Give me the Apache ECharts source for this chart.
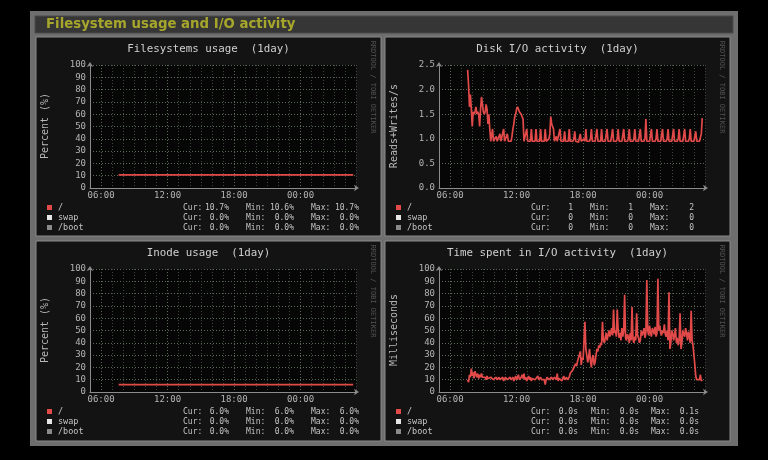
<!DOCTYPE html>
<html><head><meta charset="utf-8">
<script src="https://cdn.jsdelivr.net/npm/echarts@6/dist/echarts.min.js"></script>
<style>html,body{margin:0;padding:0;background:#000;}#c{width:768px;height:460px;}</style>
</head><body><div id="c"></div>
<script>
// ---------- data ----------
const pageTitle = 'Filesystem usage and I/O activity';
const panelTitles = ['Filesystems usage  (1day)', 'Disk I/O activity  (1day)', 'Inode usage  (1day)', 'Time spent in I/O activity  (1day)'];
const yNames = ['Percent (%)', 'Reads+Writes/s', 'Percent (%)', 'Milliseconds'];
const sideText = 'RRDTOOL / TOBI OETIKER';
const xTickLabels = ['06:00', '12:00', '18:00', '00:00'];
const axisStart = '05:00';
const legendNames = ['/', 'swap', '/boot'];
const statLabels = ['Cur:', 'Min:', 'Max:'];
const fsStats = [['10.7%', '10.6%', '10.7%'], ['0.0%', '0.0%', '0.0%'], ['0.0%', '0.0%', '0.0%']];
const diskStats = [['1', '1', '2'], ['0', '0', '0'], ['0', '0', '0']];
const inodeStats = [['6.0%', '6.0%', '6.0%'], ['0.0%', '0.0%', '0.0%'], ['0.0%', '0.0%', '0.0%']];
const ioTimeStats = [['0.0s', '0.0s', '0.1s'], ['0.0s', '0.0s', '0.0s'], ['0.0s', '0.0s', '0.0s']];

const flatTimes = ['07:35', '04:45'];
const fsRoot = [10.7, 10.7];
const inodeRoot = [6.0, 6.0];

const sampleStart = '07:35';
const sampleStepMin = 5;
const diskIO = [
  2.4, 2.1, 1.65, 1.9, 1.6, 1.25, 1.55, 1.5, 1.55, 1.65, 1.5, 1.55,
  1.5, 1.25, 1.6, 1.85, 1.7, 1.55, 1.5, 1.55, 1.7, 1.6, 1.3, 1.5,
  1.2, 0.95, 0.95, 1.2, 0.95, 0.95, 0.95, 1.05, 0.95, 0.95, 0.95, 1.1,
  0.95, 0.95, 0.95, 1.2, 0.95, 0.95, 0.95, 1.1, 0.95, 0.95, 0.95, 0.95,
  1.05, 1.2, 1.3, 1.45, 1.5, 1.6, 1.65, 1.6, 1.55, 1.55, 1.5, 1.5,
  1.4, 0.95, 0.95, 0.95, 1.2, 0.95, 0.95, 0.95, 0.95, 1.2, 0.95, 0.95,
  0.95, 0.95, 1.2, 0.95, 0.95, 0.95, 0.95, 1.2, 0.95, 0.95, 0.95, 0.95,
  1.2, 0.95, 0.95, 0.95, 1.0, 1.1, 1.45, 1.3, 1.25, 1.2, 0.95, 0.95,
  1.05, 0.95, 0.95, 0.95, 1.2, 0.95, 0.95, 0.95, 0.95, 1.15, 0.95, 0.95,
  0.95, 0.95, 1.2, 0.95, 0.95, 0.95, 0.95, 1.0, 1.15, 0.95, 0.95, 0.95,
  0.93, 0.93, 1.1, 0.95, 0.95, 0.95, 1.0, 0.95, 1.2, 0.95, 0.95, 0.95,
  0.95, 1.0, 1.2, 0.95, 0.95, 0.95, 0.95, 0.95, 1.2, 0.95, 0.95, 0.95,
  0.95, 1.2, 0.95, 0.95, 0.95, 0.95, 0.95, 1.2, 0.95, 0.95, 0.95, 0.95,
  0.95, 1.2, 0.95, 0.95, 0.95, 0.95, 1.0, 1.2, 0.95, 0.95, 0.95, 0.95,
  0.95, 1.2, 0.95, 0.95, 0.95, 0.95, 1.0, 1.2, 0.95, 0.95, 0.95, 0.95,
  1.0, 1.2, 0.95, 0.95, 0.95, 0.95, 0.95, 1.2, 0.95, 0.95, 0.95, 0.95,
  1.0, 1.4, 0.95, 0.95, 0.95, 0.95, 0.95, 1.2, 0.95, 0.95, 0.95, 0.95,
  1.0, 1.2, 0.95, 0.95, 0.95, 0.95, 0.95, 1.2, 0.95, 0.95, 0.95, 0.95,
  1.0, 1.2, 0.95, 0.95, 0.95, 0.95, 0.95, 1.2, 0.95, 0.95, 0.95, 0.95,
  1.0, 1.2, 0.95, 0.95, 0.95, 0.95, 0.95, 1.2, 0.95, 0.95, 0.95, 0.95,
  1.0, 1.2, 0.95, 0.95, 0.95, 0.95, 0.95, 1.15, 0.95, 0.95, 0.95, 0.95,
  0.95, 1.1, 1.42
];
const ioTime = [
  10, 8, 14, 12, 19, 13, 16, 11, 17, 14, 12, 15,
  11, 14, 12, 15, 12, 11, 13, 12, 10, 13, 11, 12,
  10, 12, 11, 13, 10, 9, 11, 12, 10, 11, 12, 10,
  11, 10, 12, 9, 10, 12, 11, 10, 9, 11, 12, 10,
  10, 12, 9, 11, 13, 10, 12, 14, 10, 11, 12, 14,
  11, 15, 10, 12, 9, 11, 13, 10, 12, 9, 11, 10,
  12, 10, 9, 11, 13, 10, 11, 12, 10, 9, 11, 10,
  6, 10, 12, 11, 10, 9, 11, 12, 10, 9, 12, 11,
  10, 15, 9, 11, 10, 12, 9, 11, 13, 10, 9, 12,
  10, 9, 12, 15, 14, 16, 18, 20, 19, 23, 21, 25,
  24, 26, 33, 22, 28, 26, 25, 57, 35, 30, 24, 28,
  35, 25, 20, 28, 30, 22, 24, 30, 35, 33, 38, 36,
  40, 38, 57, 42, 40, 44, 48, 42, 46, 50, 45, 48,
  52, 46, 67, 48, 50, 45, 67, 50, 44, 48, 42, 52,
  45, 50, 79, 44, 42, 47, 45, 40, 48, 42, 69, 43,
  40, 45, 42, 64, 46, 44, 40, 42, 50, 46, 48, 52,
  44, 48, 91, 50, 46, 54, 48, 45, 52, 50, 47, 53,
  45, 48, 92, 50, 54, 48, 46, 50, 48, 55, 47, 45,
  50, 42, 81, 35, 40, 50, 48, 42, 46, 52, 40, 44,
  38, 42, 64, 35, 40, 50, 47, 45, 52, 48, 42, 49,
  45, 40, 66, 42, 38, 30, 22, 13, 10, 9, 11, 10,
  14, 9, 10
];

// ---------- helpers ----------
function hoursFromAxisStart(t) {
  const [h, m] = t.split(':').map(Number);
  const [h0, m0] = axisStart.split(':').map(Number);
  let d = (h * 60 + m - h0 * 60 - m0) / 60;
  if (d < 0) d += 24;
  return d;
}
function sampled(values) {
  const s = hoursFromAxisStart(sampleStart);
  return values.map((v, i) => [s + i * sampleStepMin / 60, v]);
}
function flat(values) {
  return values.map((v, i) => [hoursFromAxisStart(flatTimes[i]), v]);
}

// ---------- layout ----------
const MONO = 'DejaVu Sans Mono';
const LINE = '#e24a4a';
const panels = [
  { x: 36, y: 37, w: 345, h: 199, yMax: 100, yInt: 10, dec: 0, stats: fsStats, labX: [183, 246, 311], valRight: [229, 294, 359], data: flat(fsRoot) },
  { x: 385, y: 37, w: 345, h: 199, yMax: 2.5, yInt: 0.5, dec: 1, stats: diskStats, labX: [531, 590, 650], valRight: [573, 633, 694], data: sampled(diskIO) },
  { x: 36, y: 241, w: 345, h: 200, yMax: 100, yInt: 10, dec: 0, stats: inodeStats, labX: [183, 246, 311], valRight: [229, 294, 359], data: flat(inodeRoot) },
  { x: 385, y: 241, w: 345, h: 200, yMax: 100, yInt: 10, dec: 0, stats: ioTimeStats, labX: [531, 591, 651], valRight: [578, 639, 699], data: sampled(ioTime) }
];

const grids = [], xAxes = [], yAxes = [], series = [], graphics = [];
graphics.push({ type: 'rect', z: -10, shape: { x: 30, y: 11, width: 708, height: 435 }, style: { fill: '#6e6e6e' } });
graphics.push({ type: 'rect', z: -9, shape: { x: 35, y: 16, width: 698, height: 17 }, style: { fill: '#363636', stroke: '#4a4a4a', lineWidth: 1 } });
graphics.push({ type: 'text', z: 5, style: { x: 46, y: 25, text: pageTitle, fill: '#a6a62c', font: 'bold 13.3px "DejaVu Sans"', verticalAlign: 'middle' } });

const minor = '#3a473a', major = '#5a6b5a';
panels.forEach((p, k) => {
  graphics.push({ type: 'rect', z: -9, shape: { x: p.x, y: p.y, width: p.w, height: p.h }, style: { fill: '#131313', stroke: '#8a8a8a', lineWidth: 1 } });
  graphics.push({ type: 'text', z: 5, style: { x: p.x + p.w / 2, y: p.y + 12, text: panelTitles[k], fill: '#cfcfcf', font: '10.8px "' + MONO + '"', align: 'center', verticalAlign: 'middle' } });
  graphics.push({ type: 'text', z: 5, x: p.x + 9, y: p.y + 89, rotation: Math.PI / 2, style: { x: 0, y: 0, text: yNames[k], fill: '#b8b8b8', font: '10px "' + MONO + '"', align: 'center', verticalAlign: 'middle' } });
  graphics.push({ type: 'text', z: 5, x: p.x + p.w - 8, y: p.y + 50, rotation: -Math.PI / 2, style: { x: 0, y: 0, text: sideText, fill: '#525252', font: '7px "' + MONO + '"', align: 'center', verticalAlign: 'middle' } });
  const sqColors = [LINE, '#e6e6e6', '#8a8a8a'];
  legendNames.forEach((n, r) => {
    const ry = p.y + 171 + r * 10;
    graphics.push({ type: 'rect', z: 5, shape: { x: p.x + 11, y: ry - 3, width: 5, height: 5 }, style: { fill: sqColors[r] } });
    graphics.push({ type: 'text', z: 5, style: { x: p.x + 22, y: ry, text: n, fill: '#c4c4c4', font: '8.5px "' + MONO + '"', verticalAlign: 'middle' } });
    statLabels.forEach((lab, c) => {
      graphics.push({ type: 'text', z: 5, style: { x: p.labX[c], y: ry, text: lab, fill: '#c4c4c4', font: '8px "' + MONO + '"', verticalAlign: 'middle' } });
      graphics.push({ type: 'text', z: 5, style: { x: p.valRight[c], y: ry, text: p.stats[r][c], fill: '#c4c4c4', font: '8px "' + MONO + '"', align: 'right', verticalAlign: 'middle' } });
    });
  });

  grids.push({ left: p.x + 54, top: p.y + 28, width: 266, height: 123, show: true, backgroundColor: '#060606', borderWidth: 0 });
  xAxes.push({
    type: 'value', gridIndex: k, min: 0, max: 24, interval: 1,
    axisLine: { show: true, lineStyle: { color: '#8c8c8c', width: 1 }, symbol: ['none', 'arrow'], symbolSize: [5, 5], symbolOffset: [0, 3] },
    axisTick: { show: false },
    axisLabel: { color: '#b4b4b4', fontFamily: MONO, fontSize: 9, margin: 3,
      formatter: v => (v % 6 === 1 ? xTickLabels[(v - 1) / 6] : '') },
    splitLine: { show: true, lineStyle: { color: [minor, major, minor, minor, minor, minor], type: [1, 2], width: 1 } }
  });
  yAxes.push({
    type: 'value', gridIndex: k, min: 0, max: p.yMax, interval: p.yInt,
    axisLine: { show: true, lineStyle: { color: '#8c8c8c', width: 1 }, symbol: ['none', 'arrow'], symbolSize: [5, 5], symbolOffset: [0, 3] },
    axisTick: { show: false },
    axisLabel: { color: '#b4b4b4', fontFamily: MONO, fontSize: 9, margin: 4, formatter: v => v.toFixed(p.dec) },
    splitLine: { show: true, lineStyle: { color: major, type: [1, 2], width: 1 } }
  });
  series.push({ type: 'line', xAxisIndex: k, yAxisIndex: k, data: p.data, showSymbol: false, symbol: 'none',
    lineStyle: { color: LINE, width: 1.7 }, animation: false, z: 3 });
});

const chart = echarts.init(document.getElementById('c'), null, { renderer: 'canvas' });
chart.setOption({ backgroundColor: '#000', animation: false, grid: grids, xAxis: xAxes, yAxis: yAxes, series, graphic: graphics });
</script></body></html>
